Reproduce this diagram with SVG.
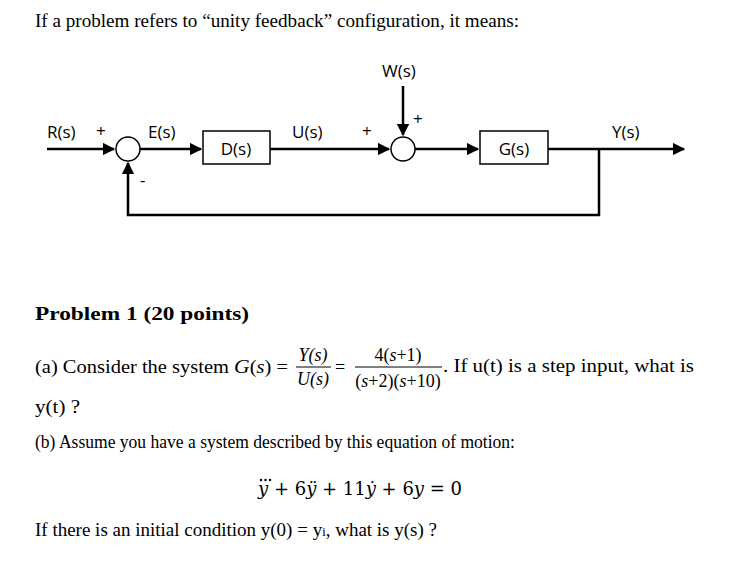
<svg xmlns="http://www.w3.org/2000/svg" width="733" height="581" viewBox="0 0 733 581">
<style>
.t{font-family:"Liberation Serif",serif;font-size:18px;fill:#000}
.l{font-family:"Open Sans","Liberation Sans",sans-serif;font-size:17px;fill:#000}
.m{font-family:"DejaVu Serif","Liberation Serif",serif;fill:#000}
.w{stroke:#000;stroke-width:2.5;fill:none}
.b{stroke:#000;stroke-width:1.5;fill:#fff}
</style>
<defs><marker id="a" viewBox="0 0 10 10" refX="9" refY="5" markerWidth="5" markerHeight="5" orient="auto"><path d="M0,0 L10,5 L0,10 Z" fill="#000"/></marker></defs>
<rect width="733" height="581" fill="#fff"/>
<text class="t" x="35" y="27" textLength="484" lengthAdjust="spacingAndGlyphs">If a problem refers to “unity feedback” configuration, it means:</text>
<g id="connectors">
<line class="w" x1="47" y1="149" x2="114" y2="149" marker-end="url(#a)"/>
<line class="w" x1="140" y1="149" x2="201" y2="149" marker-end="url(#a)"/>
<line class="w" x1="270" y1="149" x2="389" y2="149" marker-end="url(#a)"/>
<line class="w" x1="403" y1="86" x2="403" y2="135" marker-end="url(#a)"/>
<line class="w" x1="415" y1="149" x2="478" y2="149" marker-end="url(#a)"/>
<line class="w" x1="548" y1="149" x2="684" y2="149" marker-end="url(#a)"/>
<polyline class="w" points="599,149 599,215 128,215 128,163" marker-end="url(#a)"/>
</g>
<g id="sum1"><circle class="b" cx="128" cy="149" r="12"/></g>
<g id="sum2"><circle class="b" cx="403" cy="149" r="12"/></g>
<g id="D"><rect class="b" x="203" y="131" width="67" height="33"/><text class="l" x="236" y="155" text-anchor="middle">D(s)</text></g>
<g id="G"><rect class="b" x="480" y="131" width="68" height="33"/><text class="l" x="514" y="155" text-anchor="middle">G(s)</text></g>
<g id="labels">
<text class="l" x="47" y="138">R(s)</text>
<text class="l" x="96" y="137" font-size="15">+</text>
<text class="l" x="148" y="138">E(s)</text>
<text class="l" x="140" y="186" font-size="16">-</text>
<text class="l" x="292" y="138">U(s)</text>
<text class="l" x="362" y="137" font-size="15">+</text>
<text class="l" x="382" y="77">W(s)</text>
<text class="l" x="413" y="125" font-size="15">+</text>
<text class="l" x="612" y="138">Y(s)</text>
</g>
<text class="t" x="35" y="320" font-weight="bold" font-size="19" textLength="214" lengthAdjust="spacingAndGlyphs">Problem 1 (20 points)</text>
<text class="t" x="35" y="373" textLength="253" lengthAdjust="spacingAndGlyphs">(a) Consider the system <tspan font-style="italic" font-size="19">G</tspan>(<tspan font-style="italic">s</tspan>) =</text>
<text class="t" x="313" y="361" font-size="13" text-anchor="middle" font-style="italic">Y(s)</text>
<text class="t" x="313" y="385" font-size="13" text-anchor="middle" font-style="italic">U(s)</text>
<line x1="296" y1="367" x2="331" y2="367" stroke="#000" stroke-width="1"/>
<text class="t" x="335" y="373">=</text>
<text class="t" x="398" y="361" font-size="13" text-anchor="middle">4(<tspan font-style="italic">s</tspan>+1)</text>
<text class="t" x="398" y="387" font-size="13" text-anchor="middle">(<tspan font-style="italic">s</tspan>+2)(<tspan font-style="italic">s</tspan>+10)</text>
<line x1="355" y1="367" x2="442" y2="367" stroke="#000" stroke-width="1"/>
<text class="t" x="443" y="372" textLength="251" lengthAdjust="spacingAndGlyphs">.  If u(t) is a step input, what is</text>
<text class="t" x="35" y="413" textLength="45" lengthAdjust="spacingAndGlyphs">y(t) ?</text>
<text class="t" x="35" y="448" textLength="480" lengthAdjust="spacingAndGlyphs">(b) Assume you have a system described by this equation of motion:</text>
<text class="m" x="258" y="495" font-size="19" textLength="204" lengthAdjust="spacingAndGlyphs"><tspan font-style="italic">y</tspan> + 6<tspan font-style="italic">ÿ</tspan> + 11<tspan font-style="italic">ẏ</tspan> + 6<tspan font-style="italic">y</tspan> = 0</text>
<g id="dots" fill="#000"><circle cx="261" cy="480" r="1.2"/><circle cx="265.5" cy="480" r="1.2"/><circle cx="270" cy="480" r="1.2"/></g>
<text class="t" x="35" y="536" textLength="402" lengthAdjust="spacingAndGlyphs">If there is an initial condition y(0) = y<tspan font-size="12">i</tspan>, what is y(s) ?</text>
</svg>
